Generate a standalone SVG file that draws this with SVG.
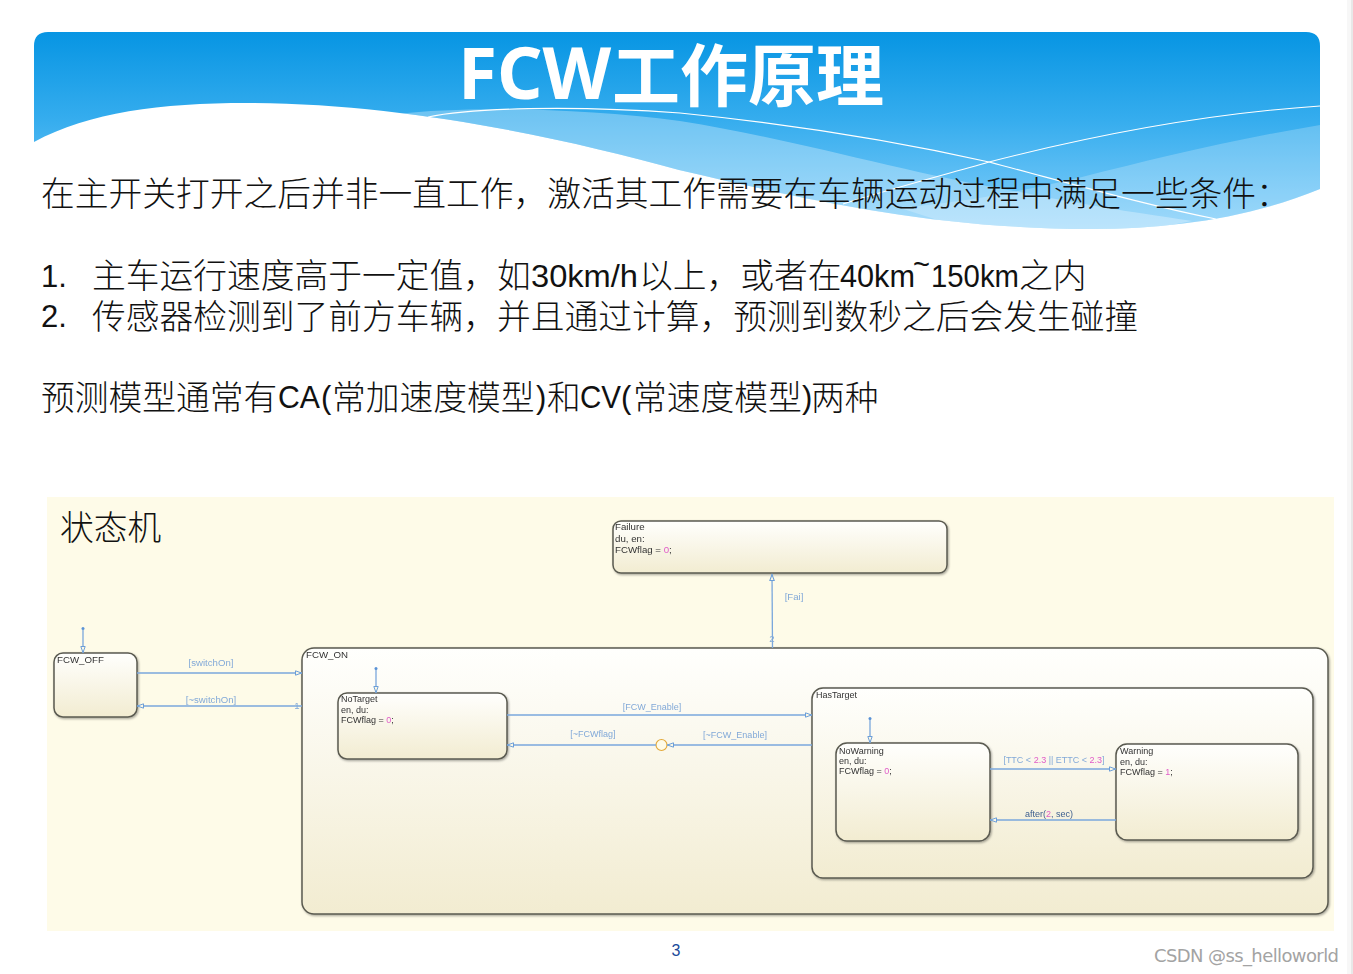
<svg xmlns="http://www.w3.org/2000/svg" width="1353" height="974" viewBox="0 0 1353 974">
<style>
.body{font-family:"Noto Sans CJK SC","Noto Sans",sans-serif;font-size:33.75px;font-weight:300;fill:#111}
.lat{font-family:"Liberation Sans",sans-serif;font-size:31px;fill:#111}
.title{font-family:"Noto Sans","Noto Sans CJK SC",sans-serif;font-weight:700;fill:#fff}
.st{font-family:"Liberation Sans",sans-serif;font-size:9px;fill:#333}
.big{font-size:9.700px}
.lb{font-family:"Liberation Sans",sans-serif;font-size:9px;fill:#82a9d8}
.lb2{font-size:9.600px}
.m{fill:#e05cc8}
.box{fill:url(#state);stroke:#5a5a50;stroke-width:1.500;filter:url(#shadow)}
.cn{fill:none;stroke:#7aa7dc;stroke-width:1.300}
.ar{marker-end:url(#arrow)}
.dot{fill:#5a92d6}
</style>
<defs>
<linearGradient id="band" gradientUnits="userSpaceOnUse" x1="0" y1="32" x2="0" y2="229">
<stop offset="0" stop-color="#0795e3"/><stop offset=".45" stop-color="#36adee"/><stop offset="1" stop-color="#84cffa"/>
</linearGradient>
<linearGradient id="state" x1="0" y1="0" x2="0" y2="1">
<stop offset="0" stop-color="#fffffd"/><stop offset="1" stop-color="#f2ecd1"/>
</linearGradient>
<filter id="shadow" x="-5%" y="-5%" width="110%" height="115%">
<feDropShadow dx="1" dy="1.200" stdDeviation="1" flood-color="#000" flood-opacity=".35"/>
</filter>
<filter id="soft"><feGaussianBlur stdDeviation=".35"/></filter>
<marker id="arrow" markerWidth="9" markerHeight="7" refX="7.500" refY="3" orient="auto" markerUnits="userSpaceOnUse">
<path d="M1 .8L7 3L1 5.200Z" fill="#fdf9e6" stroke="#6c9ed8" stroke-width="1"/>
</marker>
<clipPath id="bandClip">
<path d="M34 142V46Q34 32 48 32H1306Q1320 32 1320 46V189C1250 218 1170 229 1092 229C930 229 800 198 679 170C560 137 400 103 247 103C160 103 90 112 34 142Z"/>
</clipPath>
</defs>
<rect width="1353" height="974" fill="#fff"/>
<rect x="1347" width="4" height="974" fill="#f7f7f7"/>
<rect x="1351" width="2" height="974" fill="#e8e8e8"/>
<g id="banner">
<path d="M34 142V46Q34 32 48 32H1306Q1320 32 1320 46V189C1250 218 1170 229 1092 229C930 229 800 198 679 170C560 137 400 103 247 103C160 103 90 112 34 142Z" fill="url(#band)"/>
<g clip-path="url(#bandClip)">
<path d="M396 114C470 106 580 108 680 121C800 140 900 172 1020 192C1100 208 1160 216 1192 221L1092 240L600 180Z" fill="#fff" opacity=".3"/>
<path d="M1320 125C1230 140 1150 160 1082 177C1010 194 960 202 900 208L1000 240H1320Z" fill="#fff" opacity=".22"/>
<path d="M428 117C470 108 570 105 680 113C790 124 900 142 989 162C1080 186 1150 206 1216 219" fill="none" stroke="#fff" stroke-width="1.100"/>
<path d="M1320 106C1200 114 1090 136 989 162C940 176 880 192 843 204" fill="none" stroke="#fff" stroke-width="1.100"/>
</g>
</g>
<text class="title" font-size="71" x="458" y="99">FCW</text>
<text class="title" font-size="68" x="612" y="101">工作原理</text>
<text class="body" x="41" y="206">在主开关打开之后并非一直工作，激活其工作需要在车辆运动过程中满足一些条件：</text>
<text class="lat" x="41" y="287">1.</text>
<text class="body" x="92" y="288">主车运行速度高于一定值，如</text>
<text class="lat" x="531" y="287" textLength="107" lengthAdjust="spacingAndGlyphs">30km/h</text>
<text class="body" x="639" y="288">以上，或者在</text>
<text class="lat" x="840" y="287" textLength="75" lengthAdjust="spacingAndGlyphs">40km</text>
<text class="lat" x="913" y="275" textLength="17" lengthAdjust="spacingAndGlyphs">~</text>
<text class="lat" x="931" y="287" textLength="88" lengthAdjust="spacingAndGlyphs">150km</text>
<text class="body" x="1019" y="288">之内</text>
<text class="lat" x="41" y="327">2.</text>
<text class="body" x="92" y="329">传感器检测到了前方车辆，并且通过计算，预测到数秒之后会发生碰撞</text>
<text class="body" x="41" y="410">预测模型通常有</text>
<text class="lat" x="278" y="408" textLength="42" lengthAdjust="spacingAndGlyphs">CA</text>
<text class="lat" x="321" y="408">(</text>
<text class="body" x="332" y="410">常加速度模型</text>
<text class="lat" x="536" y="408">)</text>
<text class="body" x="547" y="410">和</text>
<text class="lat" x="580" y="408" textLength="41" lengthAdjust="spacingAndGlyphs">CV</text>
<text class="lat" x="621" y="408">(</text>
<text class="body" x="633" y="410">常速度模型</text>
<text class="lat" x="802" y="408">)</text>
<text class="body" x="811" y="410">两种</text>
<rect x="47" y="497" width="1287" height="434" fill="#fefbe8"/>
<text class="body" x="60" y="540">状态机</text>
<g filter="url(#soft)">
<g id="FCW_ON"><rect class="box" x="302" y="648" width="1026" height="266" rx="12"/><text class="st big" x="306" y="658">FCW_ON</text></g>
<g id="FCW_OFF"><rect class="box" x="54" y="653" width="83" height="64" rx="9"/><text class="st big" x="57" y="663">FCW_OFF</text></g>
<g id="Failure"><rect class="box" x="613" y="521" width="334" height="52" rx="8"/><text class="st big" x="615" y="530">Failure</text><text class="st big" x="615" y="542">du, en:</text><text class="st big" x="615" y="553">FCWflag = <tspan class="m">0</tspan>;</text></g>
<g id="NoTarget"><rect class="box" x="338" y="693" width="169" height="66" rx="9"/><text class="st" x="341" y="702">NoTarget</text><text class="st" x="341" y="713">en, du:</text><text class="st" x="341" y="723">FCWflag = <tspan class="m">0</tspan>;</text></g>
<g id="HasTarget"><rect class="box" x="812" y="688" width="501" height="190" rx="11"/><text class="st" x="816" y="698">HasTarget</text></g>
<g id="NoWarning"><rect class="box" x="836" y="743" width="154" height="98" rx="11"/><text class="st" x="839" y="754">NoWarning</text><text class="st" x="839" y="764">en, du:</text><text class="st" x="839" y="774">FCWflag = <tspan class="m">0</tspan>;</text></g>
<g id="Warning"><rect class="box" x="1116" y="744" width="182" height="96" rx="11"/><text class="st" x="1120" y="754">Warning</text><text class="st" x="1120" y="765">en, du:</text><text class="st" x="1120" y="775">FCWflag = <tspan class="m">1</tspan>;</text></g>
<g id="Junction"><circle cx="661.500" cy="745" r="5.500" fill="#fefbe8" stroke="#e3a93a" stroke-width="1.200"/></g>
<g id="connectors">
<path class="cn ar" d="M772.500 648L772 574"/>
<path class="cn ar" d="M83 630V653"/>
<circle class="dot" cx="83" cy="628.500" r="1.500"/>
<path class="cn ar" d="M376 669V693"/>
<circle class="dot" cx="376" cy="668.500" r="1.500"/>
<path class="cn ar" d="M870 719V743"/>
<circle class="dot" cx="870" cy="718.500" r="1.500"/>
<path class="cn ar" d="M137 673H302"/>
<path class="cn ar" d="M302 706H137"/>
<path class="cn ar" d="M507 715H812"/>
<path class="cn ar" d="M812 745H667"/>
<path class="cn ar" d="M656 745H507"/>
<path class="cn ar" d="M990 769H1116"/>
<path class="cn ar" d="M1116 820H990"/>
<text class="lb lb2" x="794" y="600" text-anchor="middle">[Fai]</text>
<text class="lb lb2" x="772" y="642" text-anchor="middle">2</text>
<text class="lb lb2" x="297" y="709" text-anchor="middle">1</text>
<text class="lb lb2" x="211" y="666" text-anchor="middle">[switchOn]</text>
<text class="lb lb2" x="211" y="703" text-anchor="middle">[~switchOn]</text>
<text class="lb" x="652" y="710" text-anchor="middle">[FCW_Enable]</text>
<text class="lb" x="593" y="737" text-anchor="middle">[~FCWflag]</text>
<text class="lb" x="735" y="738" text-anchor="middle">[~FCW_Enable]</text>
<text class="lb" x="1054" y="763" text-anchor="middle">[TTC &lt; <tspan class="m">2.3</tspan> || ETTC &lt; <tspan class="m">2.3</tspan>]</text>
<text class="lb" style="fill:#3d5f8f" x="1049" y="817" text-anchor="middle">after(<tspan class="m">2</tspan>, sec)</text>
</g>
</g>
<text x="676" y="956" text-anchor="middle" style="font-family:'Liberation Sans',sans-serif;font-size:16px;fill:#1a4a9a">3</text>
<text x="1154" y="962" textLength="185" style="font-family:'DejaVu Sans',sans-serif;font-size:18px;fill:#a3a3a3">CSDN @ss_helloworld</text>
</svg>
